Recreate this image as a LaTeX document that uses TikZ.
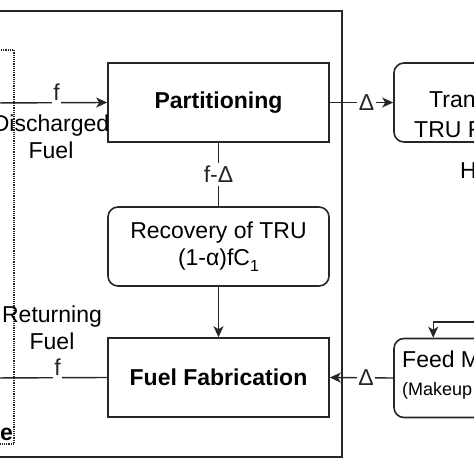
\documentclass[tikz,border=0pt]{standalone}
\usepackage{fontspec}
\setmainfont{Liberation Sans}
\usetikzlibrary{arrows.meta}
\tikzset{>={Stealth[length=11pt,width=10pt,inset=3pt]}}
\colorlet{myline}{black!85}
\tikzstyle{process}=[draw=myline,line width=1.6,minimum width=221,minimum height=79,inner sep=0,font=\bfseries]
\tikzstyle{step box}=[process,rounded corners=10,font=\mdseries]
\tikzstyle{flow}=[myline,line width=1.4]
\tikzstyle{flow label}=[fill=white,inner xsep=1.5,inner ysep=3,text depth=0]
\tikzstyle{cut text}=[anchor=base west,inner sep=0]
\newcommand\subone{\raisebox{-0.25em}{\fontsize{16}{16}\selectfont 1}}

\begin{document}
\fontsize{23}{27}\selectfont
\begin{tikzpicture}[x=1pt,y=-1pt]
  \useasboundingbox (0,0) rectangle (474,474);
  \clip (0,0) rectangle (474,474);
  
  % FRAMES
  \draw[myline,line width=1.8] (-10,11) -| (342,457) -- (-10,457);
  \draw[myline,densely dotted,line width=1.2] (-10,50) -| (14,444) -- (-10,444);
  \node[font=\bfseries,anchor=base east,inner sep=0] (core) at (13,440) {e};
  
  % PROCESS BOXES
  \node[process] (part) at (218.5,102.5) {Partitioning};
  \node[step box,align=center] (recov) at (218.5,246.5) {Recovery of TRU\\(1-α)fC\subone};
  \node[process] (fab) at (218.5,377.5) {Fuel Fabrication};
  \node[step box] (trans) at (504.5,102.5) {};
  \node[step box] (feed) at (504.5,378) {};
  
  % TEXTS CUT BY THE EDGE
  \node[cut text] (trans top) at (429,107) {Tran};
  \node[cut text] (trans bot) at (414,137) {TRU F};
  \node[cut text] (trans sub) at (460,178) {H};
  \node[cut text] (feed top) at (402,367) {Feed M};
  \node[cut text,font=\fontsize{18}{20}\selectfont] (feed bot) at (402,395) {(Makeup};
  
  % FLOWS
  \coordinate (core out) at (-10,103);
  \coordinate (core in) at (-10,378);
  \coordinate (makeup in) at (490,322);
  \draw[flow,->] (core out) -- (part.west)
    node[flow label,pos=0.568,anchor=base,yshift=2] {f};
  \node[align=center] (discharged) at (51,137) {Discharged\\Fuel};
  \draw[flow] (part.south) -- (recov.north) node[flow label,midway] {f-Δ};
  \draw[flow,->] (recov.south) -- (fab.north);
  \draw[flow,->] (part.east) -- (trans.west) node[flow label,pos=0.58] {Δ};
  \draw[flow,->] (feed.west) -- (fab.east) node[flow label,pos=0.43] {Δ};
  \draw[flow] (fab.west) -- (core in)
    node[flow label,pos=0.424,anchor=base,yshift=2] {f};
  \node[align=center] (returning) at (52,328) {Returning\\Fuel};
  \draw[flow,->] (makeup in) -| ([xshift=40]feed.north west);
  
\end{tikzpicture}
\end{document}
